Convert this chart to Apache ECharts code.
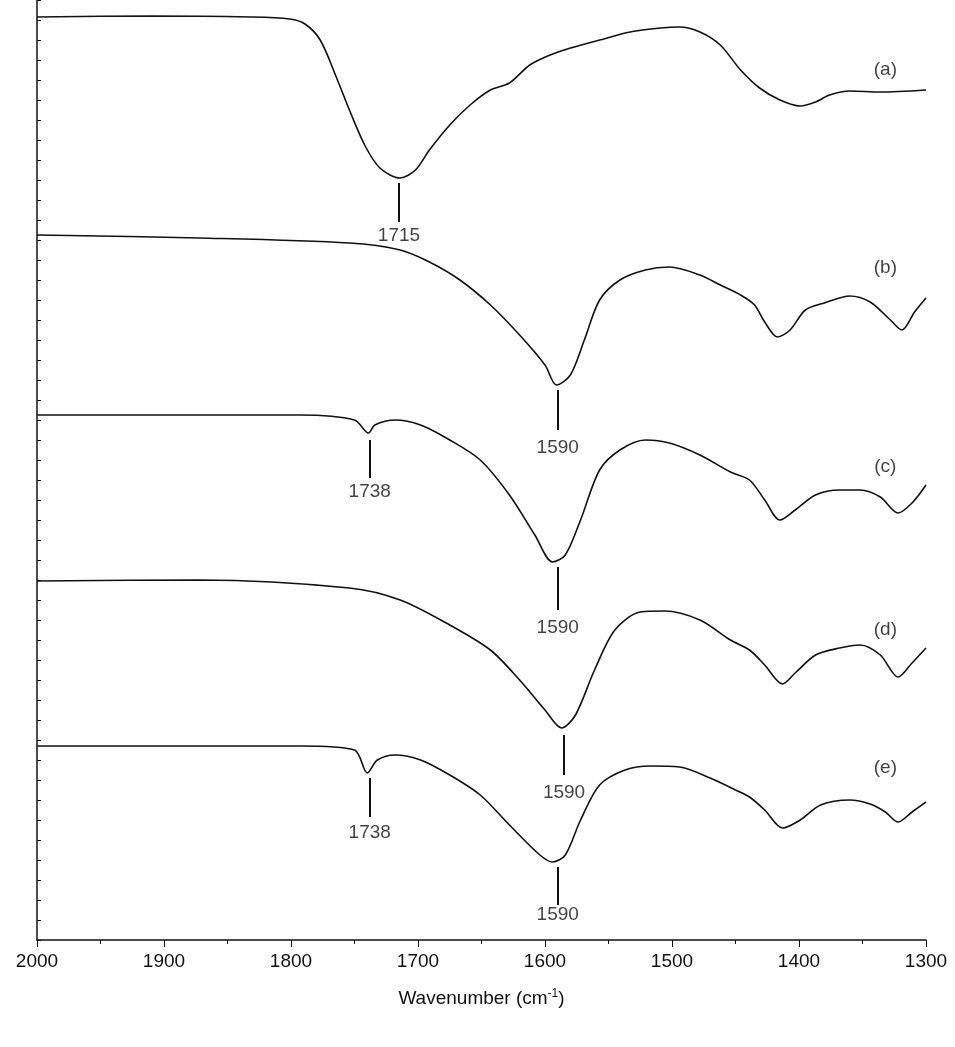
<!DOCTYPE html>
<html><head><meta charset="utf-8">
<script src="https://cdn.jsdelivr.net/npm/echarts@6/dist/echarts.min.js"></script>
<style>html,body{margin:0;padding:0;background:#fff}#c{width:955px;height:1047px}</style>
</head><body><div id="c"></div>
<script>
const specA=[[2000,17],[1911,16],[1832,17],[1801,19],[1789,24],[1777,40],[1765,75],[1754,110],[1742,145],[1730,168],[1714,178],[1702,170],[1691,150],[1675,125],[1659,105],[1643,90],[1628,83],[1612,65],[1596,55],[1580,48],[1557,40],[1533,32],[1509,28],[1494,27],[1478,32],[1462,45],[1446,70],[1431,88],[1415,100],[1399,106],[1387,102],[1376,95],[1360,91],[1336,92],[1300,90]];
const specB=[[2000,235],[1872,238],[1754,243],[1714,250],[1691,262],[1667,280],[1643,305],[1620,335],[1600,365],[1591,385],[1580,375],[1569,340],[1557,300],[1541,280],[1521,270],[1502,267],[1478,275],[1462,285],[1446,295],[1435,305],[1427,322],[1417,337],[1407,330],[1395,310],[1380,303],[1360,296],[1344,302],[1328,320],[1319,330],[1309,312],[1300,298]];
const specC=[[2000,415],[1793,415],[1750,420],[1739,433],[1734,425],[1718,420],[1698,425],[1675,440],[1651,460],[1628,495],[1608,535],[1594,562],[1584,555],[1572,520],[1557,470],[1541,450],[1521,440],[1502,443],[1478,455],[1454,472],[1439,480],[1427,500],[1415,520],[1403,510],[1387,495],[1368,490],[1352,490],[1336,497],[1322,513],[1311,503],[1300,485]];
const specD=[[2000,581],[1872,580],[1754,588],[1714,600],[1675,625],[1643,650],[1620,680],[1600,710],[1587,728],[1576,715],[1561,670],[1545,630],[1525,612],[1506,611],[1478,620],[1454,640],[1439,650],[1427,665],[1413,684],[1403,673],[1387,655],[1368,648],[1352,645],[1336,655],[1322,677],[1311,663],[1300,648]];
const specE=[[2000,746],[1793,746],[1750,750],[1740,773],[1732,760],[1718,755],[1698,760],[1675,775],[1651,795],[1628,825],[1604,855],[1594,862],[1584,855],[1572,820],[1557,785],[1537,770],[1517,766],[1494,767],[1470,778],[1450,790],[1439,797],[1427,810],[1413,828],[1399,820],[1383,805],[1360,800],[1344,804],[1332,812],[1322,822],[1311,812],[1300,802]];
const peakLines=[[1715,183,222],[1590,390,430],[1738,440,478],[1590,567,610],[1585,735,775],[1738,778,817],[1590,867,905]];
const peakLabels=[[1715,236,'1715'],[1590,448,'1590'],[1738,492,'1738'],[1590,628,'1590'],[1585,793,'1590'],[1738,833,'1738'],[1590,915,'1590']];
const curveLabels=[[1332,70,'(a)'],[1332,268,'(b)'],[1332,467,'(c)'],[1332,630,'(d)'],[1332,768,'(e)']];
const sty={type:'line',showSymbol:false,symbol:'none',lineStyle:{color:'#111',width:1.6},smooth:0.3};
const series=[specA,specB,specC,specD,specE].map(d=>Object.assign({},sty,{data:d}));
series.push({type:'lines',coordinateSystem:'cartesian2d',polyline:false,lineStyle:{color:'#111',width:2,opacity:1},
  data:peakLines.map(p=>({coords:[[p[0],p[1]],[p[0],p[2]]]}))});
series.push({type:'scatter',symbolSize:0,data:peakLabels.concat(curveLabels).map(p=>({value:[p[0],p[1]],name:p[2]})),
  label:{show:true,position:'inside',formatter:p=>p.name,color:'#111',fontSize:19,fontFamily:'Arial, Liberation Sans'}});
const chart=echarts.init(document.getElementById('c'));
chart.setOption({animation:false,
 grid:{left:37,right:29,top:0,bottom:107},
 xAxis:{type:'value',position:'bottom',min:1300,max:2000,inverse:true,interval:100,
   axisLine:{onZero:false,lineStyle:{color:'#111',width:1.5}},axisTick:{inside:false,length:7,lineStyle:{color:'#111'}},
   minorTick:{show:true,splitNumber:2,length:4,lineStyle:{color:'#111'}},splitLine:{show:false},
   axisLabel:{color:'#111',fontSize:19,fontFamily:'Arial, Liberation Sans',margin:12,formatter:v=>String(v)},
   name:'{a|Wavenumber (cm}{s|-1}{a|)}',nameLocation:'middle',nameGap:48,
   nameTextStyle:{rich:{a:{fontSize:19,color:'#111',fontFamily:'Arial, Liberation Sans'},s:{fontSize:12,color:'#111',verticalAlign:'top',padding:[0,0,10,0]}}}},
 yAxis:{type:'value',min:0,max:940,interval:20,inverse:true,
   axisLine:{lineStyle:{color:'#111',width:1.5}},axisTick:{inside:true,length:4,lineStyle:{color:'#111'}},
   axisLabel:{show:false},splitLine:{show:false}},
 series:series});
</script></body></html>
